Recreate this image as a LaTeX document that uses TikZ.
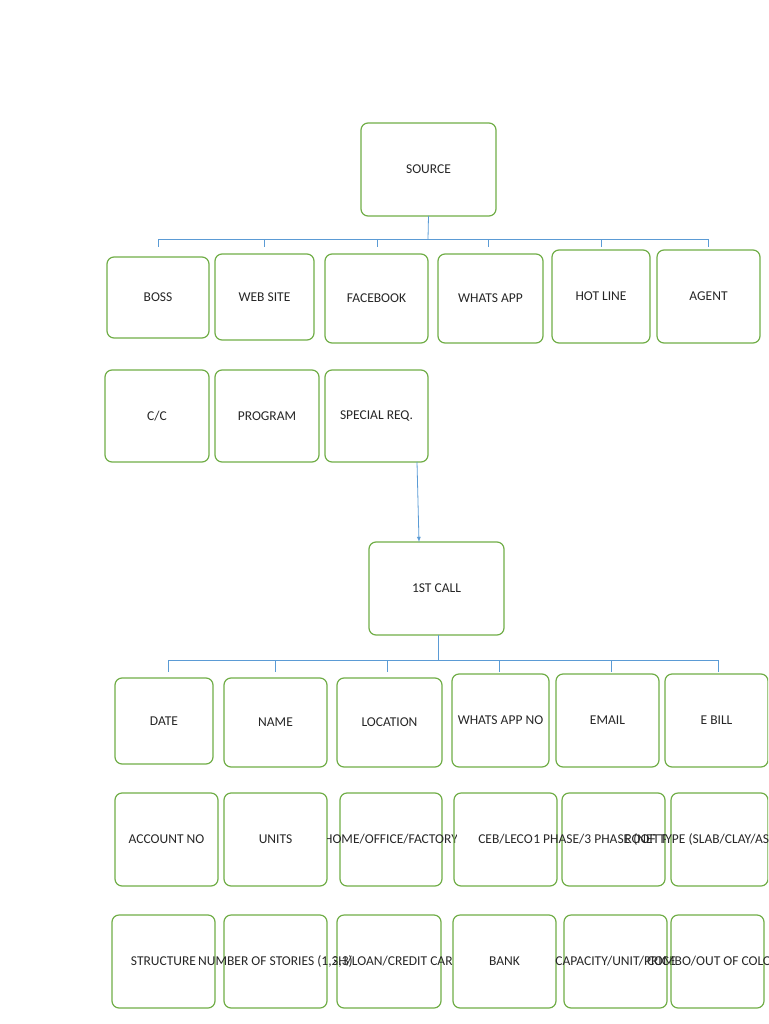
\documentclass[tikz,border=0pt]{standalone}
\usepackage{fontspec}
\setmainfont{Carlito}
\begin{document}
\begin{tikzpicture}[x=1pt,y=-1pt,
 bx/.style={draw=grn,line width=1.2pt,rounded corners=7pt},
 tx/.style={font=\fontsize{13.5}{15}\selectfont,text=black!85,inner sep=0pt},
 ln/.style={draw=blu,line width=0.8pt}]
\definecolor{grn}{HTML}{70AD47}
\definecolor{blu}{HTML}{5B9BD5}
\path[use as bounding box] (0,0) rectangle (768,1024);
\clip (0,0) rectangle (768,1024);
% #1 name, #2 x1, #3 y1, #4 x2, #5 y2, #6 text, #7 clip left, #8 clip right
\newcommand\bxx[8]{%
 \draw[bx] (#2,#3) rectangle (#4,#5);
 \coordinate (#1) at ({(#2+#4)/2},{(#3+#5)/2});
 \coordinate (#1t) at ({(#2+#4)/2},#3);
 \begin{scope}\clip (#7,#3) rectangle (#8,#5);
 \node[tx] (#1x) at ({(#2+#4)/2},{(#3+#5)/2}) {#6};
 \end{scope}}
\bxx{src}{361}{123}{496}{216}{SOURCE}{300}{560}
\bxx{boss}{107}{257}{209}{338}{BOSS}{90}{230}
\bxx{web}{215}{254}{314}{340}{WEB SITE}{200}{330}
\bxx{fb}{325}{254}{428}{343}{FACEBOOK}{310}{440}
\bxx{wa}{438}{254}{543}{343}{WHATS APP}{420}{560}
\bxx{hot}{552}{250}{650}{343}{HOT LINE}{540}{660}
\bxx{agent}{657}{250}{760}{343}{AGENT}{640}{768}
\bxx{cc}{105}{370}{209}{462}{C/C}{90}{230}
\bxx{prog}{215}{370}{319}{462}{PROGRAM}{200}{330}
\bxx{spec}{325}{370}{428}{462}{SPECIAL REQ.}{310}{440}
\bxx{call}{369}{542}{504}{635}{1ST CALL}{300}{560}
\bxx{date}{115}{678}{213}{764}{DATE}{100}{230}
\bxx{name}{224}{678}{327}{767}{NAME}{210}{340}
\bxx{loc}{337}{678}{442}{767}{LOCATION}{320}{450}
\bxx{wan}{452}{674}{549}{767}{WHATS APP NO}{440}{556}
\bxx{email}{556}{674}{659}{767}{EMAIL}{540}{670}
\bxx{ebill}{665}{674}{768}{767}{E BILL}{650}{768}
\bxx{acc}{115}{793}{218}{886}{ACCOUNT NO}{100}{230}
\bxx{units}{224}{793}{327}{886}{UNITS}{210}{340}
\bxx{home}{340}{793}{442}{886}{HOME/OFFICE/FACTORY}{327}{456}
\bxx{ceb}{454}{793}{557}{886}{CEB/LECO}{440}{560}
\bxx{ph}{562}{793}{665}{886}{1 PHASE/3 PHASE (NET PLUS)}{517}{665}
\bxx{roof}{671}{793}{768}{886}{ROOF TYPE (SLAB/CLAY/ASBESTOS)}{617}{768}
\bxx{str}{112}{915}{215}{1008}{STRUCTURE}{100}{200}
\bxx{num}{224}{915}{327}{1008}{NUMBER OF STORIES (1,2,3)}{193}{360}
\bxx{cash}{337}{915}{441}{1008}{CASH/LOAN/CREDIT CARD}{334}{452}
\bxx{bank}{453}{915}{556}{1008}{BANK}{440}{560}
\bxx{cap}{564}{915}{667}{1008}{CAPACITY/UNIT/PRICE}{552}{680}
\bxx{combo}{671}{915}{764}{1008}{COMBO/OUT OF COLOUR}{630}{768}
% connectors
\coordinate (b1) at (428,239);
\draw[ln] (src |- 0,216) -- (b1);
\draw[ln] (158,239) -- (708,239);
\foreach \x in {158,264,377,488,601,708}
  \draw[ln] (\x,239) -- (\x,247);
\coordinate (sa) at (417,462);
\coordinate (ca) at (419,542);
\draw[ln,-latex] (sa) -- (ca);
\draw[ln] (438,635) -- (438,660);
\draw[ln] (168,660) -- (718,660);
\foreach \x in {168,275,387,499,611,718}
  \draw[ln] (\x,660) -- (\x,672);
\end{tikzpicture}
\end{document}
